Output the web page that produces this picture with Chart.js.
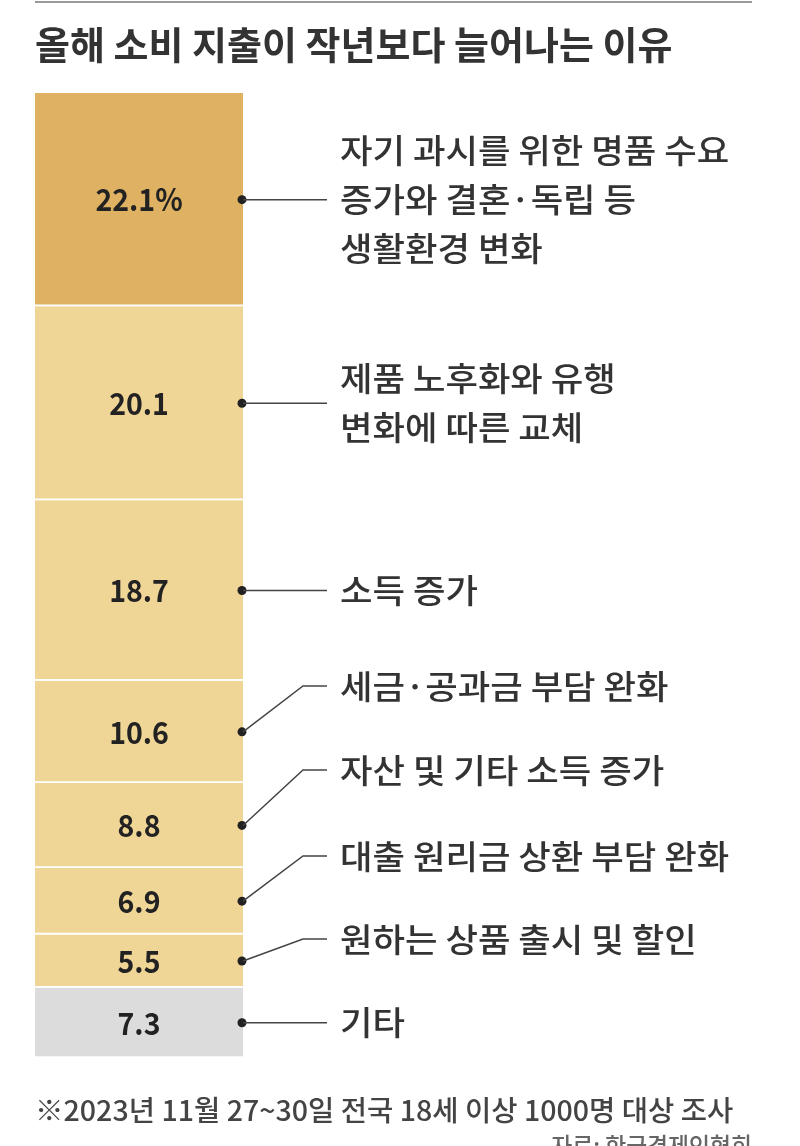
<!DOCTYPE html>
<html><head><meta charset="utf-8">
<script src="https://cdn.jsdelivr.net/npm/chart.js@4/dist/chart.umd.min.js"></script>
<style>html,body{margin:0;padding:0;background:#fff;}#wrap{width:800px;height:1146px;position:relative;}</style>
</head><body><div id="wrap"><canvas id="c" width="800" height="1146"></canvas></div>
<script>
const title = '올해 소비 지출이 작년보다 늘어나는 이유';
const valueLabels = ['22.1%','20.1','18.7','10.6','8.8','6.9','5.5','7.3'];
const values = [22.1,20.1,18.7,10.6,8.8,6.9,5.5,7.3];
const reasons = [
  ['자기 과시를 위한 명품 수요','증가와 결혼·독립 등','생활환경 변화'],
  ['제품 노후화와 유행','변화에 따른 교체'],
  ['소득 증가'],
  ['세금·공과금 부담 완화'],
  ['자산 및 기타 소득 증가'],
  ['대출 원리금 상환 부담 완화'],
  ['원하는 상품 출시 및 할인'],
  ['기타']
];
const note = '※2023년 11월 27~30일 전국 18세 이상 1000명 대상 조사';
const source = '자료: 한국경제인협회';
// layout (not data): y of elbow label line for slanted leaders (null = horizontal)
const elbowY = [null,null,null,686,770,856,939,null];
const colors = ['#dfb263','#efd596','#efd596','#efd596','#efd596','#efd596','#efd596','#dcdcdc'];
const FONT = '"Noto Sans CJK KR","Noto Sans",sans-serif';

function txt(ctx,s,x,y,size,weight,color,align,sx){
  ctx.save();ctx.translate(x,y);ctx.scale(sx,1);
  ctx.font=weight+' '+size+'px '+FONT;ctx.fillStyle=color;ctx.textAlign=align;ctx.textBaseline='middle';
  ctx.fillText(s,0,0);ctx.restore();
}
const deco = {id:'deco',afterDatasetsDraw(chart){
  const ctx=chart.ctx;
  ctx.save();
  ctx.strokeStyle='#999';ctx.lineWidth=2;ctx.beginPath();ctx.moveTo(35,2);ctx.lineTo(752,2);ctx.stroke();
  txt(ctx,title,35,45,38,'bold','#333','left',1.0);
  chart.data.datasets.forEach((ds,i)=>{
    const el=chart.getDatasetMeta(i).data[0];
    const yc=(el.y+el.base)/2, xr=el.x+el.width/2, xc=el.x;
    txt(ctx,valueLabels[i],xc,yc,31,'bold','#222','center',0.92);
    ctx.fillStyle='#222';ctx.beginPath();ctx.arc(xr-1,yc,4.5,0,Math.PI*2);ctx.fill();
    ctx.strokeStyle='#444';ctx.lineWidth=1.5;ctx.beginPath();ctx.moveTo(xr,yc);
    let ly=yc;
    if(elbowY[i]!==null){ly=elbowY[i];ctx.lineTo(303,ly);}
    ctx.lineTo(327,ly);ctx.stroke();
    const lines=reasons[i];const h=49;const y0=ly-(lines.length-1)*h/2;
    lines.forEach((s,k)=>txt(ctx,s,340,y0+k*h,33,'500','#333','left',1.07));
  });
  txt(ctx,note,35,1110,28,'500','#444','left',1.02);
  txt(ctx,source,752,1146,24,'500','#666','right',0.95);
  ctx.restore();
}};
new Chart(document.getElementById('c'),{
  type:'bar',
  data:{labels:[''],datasets:values.map((v,i)=>({data:[v],backgroundColor:colors[i],borderColor:'rgba(255,255,255,0.6)',borderWidth:{top:0,bottom:2,left:0,right:0},borderSkipped:false,barPercentage:1,categoryPercentage:1}))},
  options:{responsive:false,animation:false,devicePixelRatio:1,
    layout:{padding:{left:35,right:557,top:93,bottom:88}},
    plugins:{legend:{display:false},tooltip:{enabled:false}},
    scales:{x:{stacked:true,display:false},y:{stacked:true,display:false,min:0,max:100,reverse:true}}},
  plugins:[deco]
});
</script></body></html>
